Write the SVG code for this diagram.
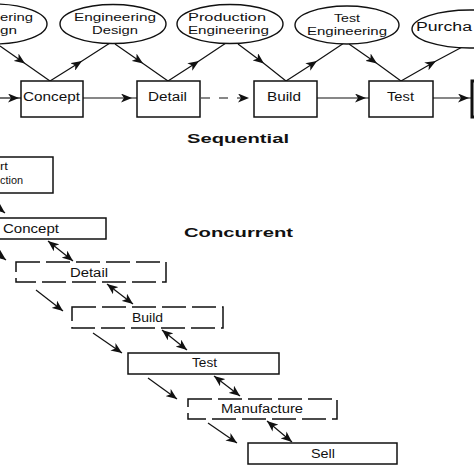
<svg xmlns="http://www.w3.org/2000/svg" width="474" height="474" viewBox="0 0 474 474">
<style>
.bg{fill:#fff}
.ell{fill:#fff;stroke:#111;stroke-width:1.4}
.box{fill:#fff;stroke:#111;stroke-width:1.5}
.dash{stroke-dasharray:24,6}
.t{font-family:"Liberation Sans",Arial,sans-serif;font-size:12px;fill:#111}
.s{font-size:11px}
.h{font-family:"Liberation Sans",Arial,sans-serif;font-size:13px;font-weight:bold;fill:#111}
.ln{fill:none;stroke:#111;stroke-width:1.2}
.mid{marker-mid:url(#ah)}
.end{marker-end:url(#ah)}
.both{marker-start:url(#ahs);marker-end:url(#ah)}
.dl{stroke-dasharray:9,9}
</style>
<defs>
<marker id="ah" markerUnits="userSpaceOnUse" markerWidth="12" markerHeight="9" refX="11" refY="4.5" orient="auto">
<path d="M0,0 L11,4.5 L0,9 L3,4.5 z" fill="#111"/>
</marker>
<marker id="ahs" markerUnits="userSpaceOnUse" markerWidth="12" markerHeight="9" refX="11" refY="4.5" orient="auto-start-reverse">
<path d="M0,0 L11,4.5 L0,9 L3,4.5 z" fill="#111"/>
</marker>
</defs>
<rect class="bg" x="0" y="0" width="474" height="474"/>

<g id="connectors">
<path class="ln mid" d="M0,46 L25,63.5 L50,81"/>
<path class="ln mid" d="M50,81 L82,61 L110,43"/>
<path class="ln mid" d="M115,44 L143,63.5 L168,81"/>
<path class="ln mid" d="M168,81 L199,61 L226,43"/>
<path class="ln mid" d="M238,44 L264,63.5 L286,81"/>
<path class="ln mid" d="M286,81 L317,61 L344,43"/>
<path class="ln mid" d="M349,44 L377,63.5 L401,81"/>
<path class="ln mid" d="M401,81 L436,61 L466,45"/>
<path class="ln mid" d="M0,98 L19,98 L21,98"/>
<path class="ln mid" d="M83,98 L132,98 L137,98"/>
<path class="ln mid dl" d="M201,98 L249,98 L254,98"/>
<path class="ln mid" d="M317,98 L366,98 L369,98"/>
<path class="ln mid" d="M433,98 L469,98 L471,98"/>

<path class="ln end" d="M-15,197 L5,213"/>
<path class="ln end" d="M-15,244 L6,260"/>
<path class="ln end" d="M36,290 L63,311"/>
<path class="ln end" d="M93,333 L122,353"/>
<path class="ln end" d="M148,378 L177,399"/>
<path class="ln end" d="M208,423 L237,443"/>

<path class="ln both" d="M48,241 L73,261"/>
<path class="ln both" d="M107,284 L133,304"/>
<path class="ln both" d="M162,330 L187,350"/>
<path class="ln both" d="M214,376 L240,396"/>
<path class="ln both" d="M267,421 L292,442"/>
</g>

<g id="node-ell1"><ellipse class="ell" cx="-6" cy="24" rx="53" ry="20"/>
<text class="t s" x="0" y="21" textLength="33" lengthAdjust="spacingAndGlyphs">ering</text>
<text class="t s" x="0" y="34" textLength="17" lengthAdjust="spacingAndGlyphs">gn</text></g>
<g id="node-engdesign"><ellipse class="ell" cx="113" cy="24" rx="53" ry="19.5"/>
<text class="t s" x="74" y="21" textLength="82" lengthAdjust="spacingAndGlyphs">Engineering</text>
<text class="t s" x="92" y="34" textLength="46" lengthAdjust="spacingAndGlyphs">Design</text></g>
<g id="node-prodeng"><ellipse class="ell" cx="230" cy="24" rx="53" ry="19.5"/>
<text class="t s" x="188" y="21" textLength="78" lengthAdjust="spacingAndGlyphs">Production</text>
<text class="t s" x="188" y="34" textLength="81" lengthAdjust="spacingAndGlyphs">Engineering</text></g>
<g id="node-testeng"><ellipse class="ell" cx="347" cy="25" rx="52" ry="19"/>
<text class="t s" x="334" y="22" textLength="26" lengthAdjust="spacingAndGlyphs">Test</text>
<text class="t s" x="307" y="35" textLength="80" lengthAdjust="spacingAndGlyphs">Engineering</text></g>
<g id="node-purch"><ellipse class="ell" cx="470" cy="29" rx="58" ry="19"/>
<text class="t" x="416" y="31" textLength="56" lengthAdjust="spacingAndGlyphs">Purcha</text></g>

<g id="node-s-concept"><rect class="box" x="21" y="81" width="62" height="36"/>
<text class="t" x="23" y="101" textLength="57" lengthAdjust="spacingAndGlyphs">Concept</text></g>
<g id="node-s-detail"><rect class="box" x="137" y="81" width="63" height="36"/>
<text class="t" x="148" y="101" textLength="39" lengthAdjust="spacingAndGlyphs">Detail</text></g>
<g id="node-s-build"><rect class="box" x="254" y="81" width="63" height="36"/>
<text class="t" x="267" y="101" textLength="34" lengthAdjust="spacingAndGlyphs">Build</text></g>
<g id="node-s-test"><rect class="box" x="369" y="81" width="64" height="36"/>
<text class="t" x="387" y="101" textLength="27" lengthAdjust="spacingAndGlyphs">Test</text></g>
<g id="node-s-next"><rect class="box" x="472" y="81" width="20" height="36" style="stroke-width:3"/></g>

<text class="h" x="187" y="143" textLength="102" lengthAdjust="spacingAndGlyphs">Sequential</text>
<text class="h" x="184" y="237" textLength="109" lengthAdjust="spacingAndGlyphs">Concurrent</text>

<g id="node-c-def"><rect class="box" x="-100" y="157" width="153" height="36"/>
<text class="t s" x="0" y="170" textLength="8" lengthAdjust="spacingAndGlyphs">rt</text>
<text class="t s" x="0" y="184" textLength="23" lengthAdjust="spacingAndGlyphs">ction</text></g>
<g id="node-c-concept"><rect class="box" x="-44" y="218" width="150" height="21"/>
<text class="t" x="3" y="233" textLength="56" lengthAdjust="spacingAndGlyphs">Concept</text></g>
<g id="node-c-detail"><rect class="box dash" x="16" y="262" width="150" height="20"/>
<text class="t" x="70" y="277" textLength="38" lengthAdjust="spacingAndGlyphs">Detail</text></g>
<g id="node-c-build"><rect class="box dash" x="72" y="307" width="151" height="21"/>
<text class="t" x="132" y="322" textLength="31" lengthAdjust="spacingAndGlyphs">Build</text></g>
<g id="node-c-test"><rect class="box" x="128" y="353" width="151" height="21"/>
<text class="t" x="192" y="367" textLength="25" lengthAdjust="spacingAndGlyphs">Test</text></g>
<g id="node-c-manufacture"><rect class="box dash" x="188" y="399" width="149" height="20"/>
<text class="t" x="221" y="413" textLength="82" lengthAdjust="spacingAndGlyphs">Manufacture</text></g>
<g id="node-c-sell"><rect class="box" x="248" y="443" width="149" height="21"/>
<text class="t" x="311" y="458" textLength="24" lengthAdjust="spacingAndGlyphs">Sell</text></g>
</svg>
